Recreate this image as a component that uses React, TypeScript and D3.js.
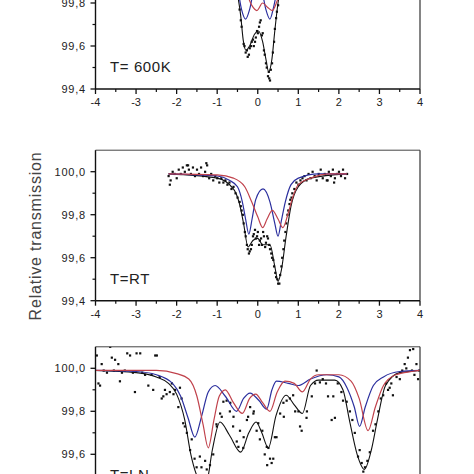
import * as d3 from 'd3'

type Pt = [number, number]

// axes
const X_DOMAIN: [number, number] = [-4, 4]
const Y_DOMAIN: [number, number] = [99.4, 100.1]
const X_TICKS = [-4, -3, -2, -1, 0, 1, 2, 3, 4]
const X_MINOR = [-3.5, -2.5, -1.5, -0.5, 0.5, 1.5, 2.5, 3.5]
const Y_TICKS = [99.4, 99.6, 99.8, 100.0]
const Y_MINOR = [99.5, 99.7, 99.9]

// T = 600K : measured transmission on the velocity grid (-2.2 .. 2.2 mm/s)
const hotValues = [
  99.99, 99.97, 100.01, 99.98, 100.0, 99.96, 100.02, 99.99, 99.97, 100.01, 99.98,
  100.0, 99.97, 100.02, 99.99, 99.96, 100.0, 99.98, 100.01, 99.97, 99.99, 99.98,
  99.96, 99.99, 99.97, 99.95, 99.98, 99.96, 99.94, 99.95, 99.93, 99.92, 99.9,
  99.87, 99.83, 99.77, 99.69, 99.61, 99.57, 99.55, 99.59, 99.62, 99.6, 99.64,
  99.66, 99.71, 99.65, 99.58, 99.52, 99.46, 99.44, 99.52, 99.62, 99.73, 99.79,
  99.85, 99.9, 99.92, 99.95, 99.94, 99.97, 99.96, 99.98, 100.0, 99.97, 99.99,
  100.01, 99.98, 99.96, 100.0, 99.99, 99.97, 100.02, 99.98, 99.99, 100.01, 99.97,
  100.0, 99.98, 99.96, 99.99, 100.01, 99.98, 100.0, 99.97, 99.99, 100.02, 99.98, 99.99,
]
const hotExtra: Pt[] = [
  [-0.42, 99.72], [-0.33, 99.6], [-0.27, 99.58], [-0.22, 99.56], [-0.17, 99.6],
  [-0.12, 99.63], [-0.07, 99.62], [-0.02, 99.67], [0.03, 99.69], [0.07, 99.72],
  [0.12, 99.66], [0.17, 99.56], [0.22, 99.5], [0.27, 99.48], [0.28, 99.45],
  [0.32, 99.49], [0.37, 99.57], [0.42, 99.68], [0.47, 99.76],
]
const hotFit: Pt[] = [
  [-2.2, 99.99], [-1.0, 99.97], [-0.65, 99.92], [-0.5, 99.84], [-0.42, 99.74],
  [-0.36, 99.63], [-0.29, 99.58], [-0.2, 99.6], [-0.08, 99.655], [0.02, 99.67],
  [0.12, 99.62], [0.2, 99.54], [0.27, 99.48], [0.35, 99.54], [0.42, 99.67],
  [0.5, 99.8], [0.6, 99.9], [0.8, 99.96], [1.2, 99.985], [2.2, 99.99],
]
const hotBlue: Pt[] = [
  [-2.2, 99.99], [-0.9, 99.97], [-0.6, 99.93], [-0.48, 99.85], [-0.4, 99.77],
  [-0.3, 99.725], [-0.2, 99.77], [-0.1, 99.86], [0.0, 99.9], [0.1, 99.86],
  [0.2, 99.77], [0.3, 99.725], [0.39, 99.78], [0.48, 99.86], [0.65, 99.94],
  [1.0, 99.98], [2.2, 99.99],
]
const hotRed: Pt[] = [
  [-2.2, 99.99], [-0.8, 99.98], [-0.5, 99.94], [-0.32, 99.87], [-0.15, 99.79],
  [-0.02, 99.765], [0.12, 99.8], [0.24, 99.78], [0.36, 99.765], [0.48, 99.81],
  [0.62, 99.88], [0.85, 99.95], [1.2, 99.98], [2.2, 99.99],
]

// T = RT
const rtValues = [
  99.98, 99.96, 100.0, 99.99, 99.97, 100.01, 99.99, 100.02, 100.0, 100.03, 100.01,
  99.99, 100.02, 99.98, 100.01, 99.99, 100.02, 99.98, 100.0, 100.03, 99.97, 99.99,
  99.96, 99.98, 99.97, 99.95, 99.97, 99.95, 99.96, 99.94, 99.95, 99.92, 99.93,
  99.9, 99.88, 99.86, 99.82, 99.76, 99.7, 99.64, 99.63, 99.66, 99.71, 99.69,
  99.72, 99.68, 99.66, 99.7, 99.67, 99.69, 99.64, 99.6, 99.56, 99.51, 99.48,
  99.52, 99.6, 99.68, 99.76, 99.82, 99.87, 99.9, 99.92, 99.95, 99.94, 99.96,
  99.97, 99.98, 99.96, 99.99, 99.97, 100.0, 99.98, 99.96, 99.99, 100.01, 99.97,
  99.99, 99.96, 100.0, 99.98, 100.01, 99.97, 99.99, 100.0, 99.98, 100.01, 99.97, 99.99,
]
const rtExtra: Pt[] = [
  [-2.17, 99.94], [-1.72, 100.03], [-1.27, 100.04], [-0.42, 99.84], [-0.37, 99.8],
  [-0.32, 99.72], [-0.27, 99.66], [-0.22, 99.62], [-0.17, 99.64], [-0.12, 99.7],
  [-0.07, 99.73], [-0.02, 99.7], [0.03, 99.66], [0.08, 99.69], [0.13, 99.72],
  [0.18, 99.65], [0.23, 99.7], [0.28, 99.66], [0.33, 99.62], [0.38, 99.59],
  [0.43, 99.53], [0.48, 99.5], [0.53, 99.48], [0.58, 99.56], [0.63, 99.64],
  [0.68, 99.72], [0.73, 99.8], [0.78, 99.85], [0.83, 99.88], [1.72, 99.96], [1.88, 99.95],
]
const rtFit: Pt[] = [
  [-2.2, 99.99], [-1.0, 99.97], [-0.6, 99.92], [-0.45, 99.85], [-0.35, 99.76],
  [-0.24, 99.65], [-0.12, 99.68], [0.0, 99.69], [0.12, 99.66], [0.3, 99.66],
  [0.42, 99.56], [0.5, 99.49], [0.58, 99.54], [0.7, 99.7], [0.82, 99.84],
  [1.0, 99.93], [1.3, 99.97], [2.2, 99.99],
]
const rtBlue: Pt[] = [
  [-2.2, 99.99], [-1.0, 99.98], [-0.7, 99.96], [-0.5, 99.93], [-0.38, 99.86],
  [-0.3, 99.78], [-0.22, 99.71], [-0.14, 99.78], [-0.05, 99.87], [0.13, 99.92],
  [0.3, 99.86], [0.42, 99.76], [0.5, 99.7], [0.58, 99.77], [0.68, 99.86],
  [0.82, 99.94], [1.0, 99.97], [1.5, 99.99], [2.2, 99.99],
]
const rtRed: Pt[] = [
  [-2.2, 99.99], [-1.0, 99.985], [-0.6, 99.97], [-0.32, 99.93], [-0.15, 99.86],
  [0.0, 99.79], [0.12, 99.74], [0.23, 99.78], [0.36, 99.82], [0.5, 99.78],
  [0.62, 99.74], [0.74, 99.8], [0.86, 99.88], [1.0, 99.94], [1.3, 99.97],
  [1.8, 99.99], [2.2, 99.99],
]

// T = LN
const lnPoints: Pt[] = [
  [-3.97, 100.06], [-3.93, 99.93], [-3.89, 99.92], [-3.85, 100.02], [-3.8, 99.99],
  [-3.72, 99.98], [-3.64, 100.1], [-3.6, 100.05], [-3.55, 99.99], [-3.52, 100.04],
  [-3.44, 100.02], [-3.4, 99.94], [-3.35, 99.98], [-3.28, 99.99], [-3.22, 100.07],
  [-3.15, 100.06], [-3.08, 99.98], [-3.03, 99.89], [-2.99, 100.07], [-2.9, 100.07],
  [-2.85, 99.98], [-2.78, 99.97], [-2.7, 99.92], [-2.62, 99.97], [-2.58, 99.9],
  [-2.53, 100.06], [-2.49, 100.06], [-2.42, 99.96], [-2.37, 99.86], [-2.33, 99.87],
  [-2.29, 99.9], [-2.25, 99.88], [-2.17, 99.89], [-2.12, 99.93], [-2.08, 99.88],
  [-2.04, 99.9], [-1.96, 99.82], [-1.92, 99.91], [-1.88, 99.86], [-1.84, 99.745],
  [-1.8, 99.73], [-1.75, 99.7], [-1.67, 99.62], [-1.63, 99.67], [-1.56, 99.58],
  [-1.51, 99.54], [-1.43, 99.59], [-1.39, 99.54], [-1.3, 99.57], [-1.26, 99.53],
  [-1.18, 99.55], [-1.1, 99.6], [-1.02, 99.74], [-1.01, 99.73], [-0.93, 99.79],
  [-0.89, 99.775], [-0.85, 99.845], [-0.77, 99.85], [-0.69, 99.8], [-0.68, 99.84],
  [-0.61, 99.73], [-0.6, 99.775], [-0.52, 99.66], [-0.48, 99.635], [-0.44, 99.71],
  [-0.36, 99.63], [-0.35, 99.68], [-0.27, 99.76], [-0.24, 99.775], [-0.19, 99.82],
  [-0.11, 99.79], [-0.1, 99.8], [-0.03, 99.71], [0.01, 99.745], [0.05, 99.67],
  [0.11, 99.71], [0.17, 99.6], [0.22, 99.635], [0.23, 99.55], [0.26, 99.63],
  [0.3, 99.58], [0.34, 99.56], [0.38, 99.58], [0.42, 99.68], [0.46, 99.68],
  [0.55, 99.79], [0.63, 99.84], [0.64, 99.775], [0.71, 99.85], [0.79, 99.86],
  [0.87, 99.875], [0.92, 99.8], [1.0, 99.8], [1.04, 99.73], [1.08, 99.71],
  [1.2, 99.77], [1.21, 99.8], [1.33, 99.87], [1.41, 99.93], [1.45, 99.99],
  [1.53, 99.935], [1.6, 99.95], [1.68, 99.93], [1.73, 99.87], [1.82, 99.76],
  [1.86, 99.87], [1.9, 99.77], [1.97, 99.93], [2.06, 99.89], [2.1, 99.85],
  [2.19, 99.845], [2.27, 99.8], [2.33, 99.76], [2.39, 99.7], [2.47, 99.59],
  [2.51, 99.62], [2.56, 99.56], [2.6, 99.52], [2.64, 99.54], [2.7, 99.57],
  [2.76, 99.61], [2.84, 99.71], [2.9, 99.74], [2.97, 99.8], [3.03, 99.86],
  [3.09, 99.875], [3.16, 99.93], [3.21, 99.9], [3.25, 99.91], [3.29, 99.93],
  [3.33, 99.875], [3.42, 99.96], [3.5, 99.95], [3.56, 99.99], [3.62, 100.02],
  [3.66, 100.0], [3.7, 100.05], [3.75, 100.085], [3.8, 99.99], [3.83, 100.09],
  [3.86, 99.97], [3.91, 100.02], [3.95, 99.95], [3.98, 99.99],
]
const lnFit: Pt[] = [
  [-4, 99.99], [-3, 99.98], [-2.5, 99.96], [-2.2, 99.93], [-2.0, 99.88],
  [-1.8, 99.76], [-1.65, 99.6], [-1.5, 99.5], [-1.38, 99.46], [-1.25, 99.48],
  [-1.12, 99.62], [-0.93, 99.75], [-0.7, 99.69], [-0.42, 99.61], [-0.22, 99.7],
  [-0.04, 99.75], [0.1, 99.7], [0.26, 99.63], [0.45, 99.78], [0.7, 99.875],
  [0.9, 99.83], [1.1, 99.79], [1.3, 99.92], [1.5, 99.945], [1.9, 99.945],
  [2.1, 99.9], [2.27, 99.75], [2.45, 99.6], [2.63, 99.53], [2.8, 99.62],
  [2.95, 99.76], [3.15, 99.92], [3.5, 99.98], [4, 99.99],
]
const lnBlue: Pt[] = [
  [-4, 99.99], [-3, 99.985], [-2.5, 99.97], [-2.1, 99.93], [-1.9, 99.87],
  [-1.72, 99.77], [-1.55, 99.68], [-1.38, 99.78], [-1.22, 99.89], [-1.05, 99.92],
  [-0.8, 99.87], [-0.52, 99.8], [-0.35, 99.86], [-0.19, 99.885], [0.03, 99.85],
  [0.22, 99.81], [0.35, 99.9], [0.46, 99.94], [0.75, 99.93], [1.0, 99.92],
  [1.3, 99.95], [1.7, 99.97], [2.0, 99.96], [2.2, 99.91], [2.38, 99.82],
  [2.51, 99.73], [2.65, 99.82], [2.85, 99.92], [3.1, 99.96], [3.5, 99.985], [4, 99.99],
]
const lnRed: Pt[] = [
  [-4, 99.99], [-2.5, 99.99], [-2.0, 99.975], [-1.7, 99.95], [-1.5, 99.87],
  [-1.35, 99.74], [-1.22, 99.63], [-1.08, 99.76], [-0.95, 99.87], [-0.8, 99.9],
  [-0.6, 99.84], [-0.38, 99.79], [-0.2, 99.86], [-0.05, 99.88], [0.12, 99.84],
  [0.3, 99.8], [0.48, 99.89], [0.67, 99.94], [0.9, 99.93], [1.1, 99.89],
  [1.3, 99.95], [1.5, 99.97], [2.0, 99.97], [2.3, 99.94], [2.5, 99.86],
  [2.72, 99.71], [2.9, 99.82], [3.1, 99.92], [3.4, 99.97], [3.8, 99.985], [4, 99.99],
]

const onGrid = (values: number[]): Pt[] =>
  values.map((v, i) => [-2.2 + (i * 4.4) / (values.length - 1), v])

const FONT = "'Liberation Sans', Arial, sans-serif"
const LEFT = 95.5
const RIGHT = 420
const PANEL_H = 150.5
const fmt = (v: number) => v.toFixed(1).replace('.', ',')

type PanelProps = {
  id: string
  bottom: number
  label: string
  points: Pt[]
  fit: Pt[]
  blue: Pt[]
  red: Pt[]
}

function Panel({ id, bottom, label, points, fit, blue, red }: PanelProps) {
  const x = d3.scaleLinear().domain(X_DOMAIN).range([LEFT, RIGHT])
  const y = d3.scaleLinear().domain(Y_DOMAIN).range([bottom, bottom - PANEL_H])
  const line = d3.line<Pt>()
    .x(d => x(d[0]))
    .y(d => y(d[1]))
    .curve(d3.curveMonotoneX)
  const top = bottom - PANEL_H

  return (
    <g>
      <defs>
        <clipPath id={id}>
          <rect x={LEFT} y={top} width={RIGHT - LEFT} height={PANEL_H} />
        </clipPath>
      </defs>
      <g clipPath={`url(#${id})`}>
        {points.map((d, i) => (
          <rect key={i} x={x(d[0]) - 1} y={y(d[1]) - 1} width={2.2} height={2.2} fill="#111" />
        ))}
        <path d={line(fit) ?? ''} fill="none" stroke="#111" strokeWidth={1.1} />
        <path d={line(blue) ?? ''} fill="none" stroke="#2b2f9e" strokeWidth={1.2} />
        <path d={line(red) ?? ''} fill="none" stroke="#c0424c" strokeWidth={1.2} />
      </g>
      {/* frame */}
      <line x1={LEFT} x2={RIGHT} y1={top} y2={top} stroke="#444" strokeWidth={1} />
      <line x1={RIGHT} x2={RIGHT} y1={top} y2={bottom} stroke="#333" strokeWidth={1.2} />
      <line x1={LEFT} x2={LEFT} y1={top} y2={bottom} stroke="#111" strokeWidth={1.4} />
      <line x1={LEFT} x2={RIGHT} y1={bottom} y2={bottom} stroke="#111" strokeWidth={1.4} />
      {/* x ticks */}
      {X_TICKS.map(t => (
        <g key={t}>
          <line x1={x(t)} x2={x(t)} y1={bottom} y2={bottom + 5} stroke="#111" strokeWidth={1.3} />
          <text x={x(t)} y={bottom + 17} textAnchor="middle" fontSize={11} fill="#222" fontFamily={FONT}>
            {t < 0 ? `-${-t}` : t}
          </text>
        </g>
      ))}
      {X_MINOR.map(t => (
        <line key={t} x1={x(t)} x2={x(t)} y1={bottom} y2={bottom + 3} stroke="#111" strokeWidth={1.2} />
      ))}
      {/* y ticks */}
      {Y_TICKS.map(t => (
        <g key={t}>
          <line x1={LEFT - 5} x2={LEFT} y1={y(t)} y2={y(t)} stroke="#111" strokeWidth={1.3} />
          <text x={86} y={y(t) + 4} textAnchor="end" fontSize={11} letterSpacing={0.8} fill="#222" fontFamily={FONT}>
            {fmt(t)}
          </text>
        </g>
      ))}
      {Y_MINOR.map(t => (
        <line key={t} x1={LEFT - 3} x2={LEFT} y1={y(t)} y2={y(t)} stroke="#111" strokeWidth={1.2} />
      ))}
      <text x={110} y={bottom - 17} fontSize={15} fill="#222" fontFamily={FONT} letterSpacing={0.6}>
        {label}
      </text>
    </g>
  )
}

export default function App() {
  return (
    <svg
      width={474}
      height={474}
      style={{ position: 'absolute', left: 0, top: 0, background: '#fff' }}
    >
      <rect width={474} height={474} fill="#fff" />
      <Panel
        id="c600"
        bottom={89}
        label="T= 600K"
        points={[...onGrid(hotValues), ...hotExtra]}
        fit={hotFit}
        blue={hotBlue}
        red={hotRed}
      />
      <Panel
        id="crt"
        bottom={300.7}
        label="T=RT"
        points={[...onGrid(rtValues), ...rtExtra]}
        fit={rtFit}
        blue={rtBlue}
        red={rtRed}
      />
      <Panel
        id="cln"
        bottom={497.3}
        label="T=LN"
        points={lnPoints}
        fit={lnFit}
        blue={lnBlue}
        red={lnRed}
      />
      <text
        transform="translate(41,236) rotate(-90)"
        textAnchor="middle"
        fontSize={16}
        letterSpacing={0.8}
        fill="#444"
        fontFamily={FONT}
      >
        Relative transmission
      </text>
    </svg>
  )
}
